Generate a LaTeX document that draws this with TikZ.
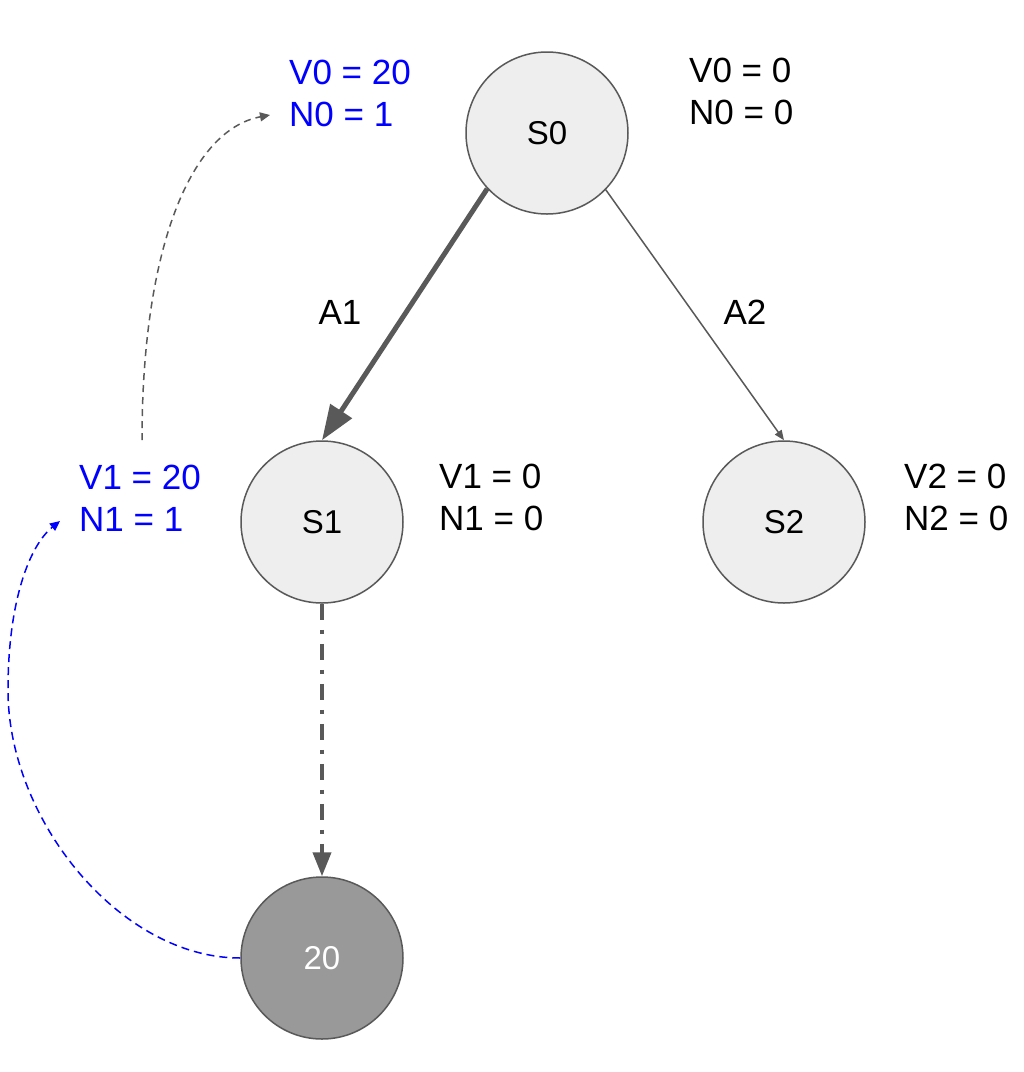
\documentclass[tikz,border=0pt]{standalone}
\usepackage{fontspec}
\setmainfont{Liberation Sans}
\usetikzlibrary{arrows.meta}
\definecolor{edgegray}{HTML}{595959}
\definecolor{statefill}{HTML}{EEEEEE}
\definecolor{termfill}{HTML}{999999}
\definecolor{valblue}{HTML}{0000FF}
\tikzset{
  state/.style={circle, draw=edgegray, line width=1.5pt, fill=statefill, minimum size=162pt, inner sep=0pt, font=\fontsize{33}{40}\selectfont},
  term/.style={state, fill=termfill, text=white},
  vals/.style={anchor=west, inner sep=0pt, align=left, font=\fontsize{35}{42}\selectfont},
  bluevals/.style={vals, text=valblue},
  actlabel/.style={inner sep=0pt, font=\fontsize{35}{42}\selectfont},
  bigedge/.style={draw=edgegray, line width=5pt, -{Triangle[length=35pt,width=25pt]}},
  thinedge/.style={draw=edgegray, line width=1.5pt, -{Triangle[length=10pt,width=8pt]}},
  rollout/.style={draw=edgegray, line width=4pt, dash pattern=on 16pt off 10pt on 4pt off 10pt, -{Triangle[length=24pt,width=18pt]}},
  backup/.style={draw=edgegray, line width=1.5pt, dash pattern=on 7pt off 5pt, -{Triangle[length=10pt,width=9pt]}},
  bluebackup/.style={draw=valblue, line width=1.5pt, dash pattern=on 8pt off 5pt, -{Triangle[length=10pt,width=9pt]}},
}
\begin{document}
\begin{tikzpicture}[x=1pt,y=-1pt]
\useasboundingbox (0,0) rectangle (1024,1072);
\fill[white] (0,0) rectangle (1024,1072);
\node[state] (S0) at (547,133) {S0};
\node[state] (S1) at (322,522) {S1};
\node[state] (S2) at (784,522) {S2};
\node[term] (T) at (322,958) {20};

\node[vals] (v0) at (689,91) {V0 = 0\\N0 = 0};
\node[vals] (v1) at (439,497) {V1 = 0\\N1 = 0};
\node[vals] (v2) at (904,497) {V2 = 0\\N2 = 0};
\node[bluevals] (b0) at (289,93) {V0 = 20\\N0 = 1};
\node[bluevals] (b1) at (79,498) {V1 = 20\\N1 = 1};

\node[actlabel] (a1) at (340,312) {A1};
\node[actlabel] (a2) at (745,312) {A2};

\coordinate (bkstart) at (142,440);
\coordinate (bkend) at (270,115);
\coordinate (bbend) at (60,521);

\draw[bigedge] (S0.223.5) -- (S1.north);
\draw[thinedge] (S0.316) -- (S2.north);
\draw[rollout] (S1.south) -- (T.north);
\draw[backup] (bkstart) .. controls (142,250) and (190,130) .. (bkend);
\draw[bluebackup] (T.west) .. controls (120,958) and (8,820) .. (8,690) .. controls (8,600) and (30,545) .. (bbend);
\end{tikzpicture}
\end{document}
